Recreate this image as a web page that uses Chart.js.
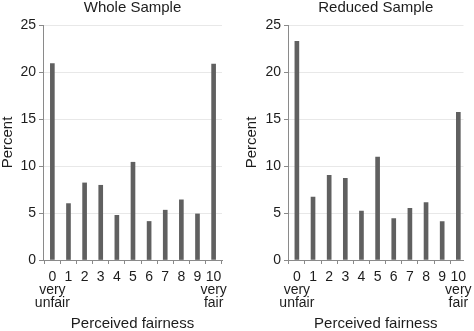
<!DOCTYPE html>
<html>
<head>
<meta charset="utf-8">
<script src="https://cdn.jsdelivr.net/npm/chart.js@4.4.1/dist/chart.umd.min.js"></script>
<style>
  html, body { margin: 0; padding: 0; background: #fff; }
  .wrap { display: flex; width: 474px; height: 331px; }
  .panel { position: relative; width: 237px; height: 331px; }
</style>
</head>
<body>
<div class="wrap">
  <div class="panel"><canvas id="wholeChart" width="237" height="331"></canvas></div>
  <div class="panel"><canvas id="reducedChart" width="237" height="331"></canvas></div>
</div>
<script>
// Perceived fairness scale 0..10
const fairnessLevels = [0, 1, 2, 3, 4, 5, 6, 7, 8, 9, 10];
const wholeSample = [20.9, 6.0, 8.2, 7.95, 4.75, 10.4, 4.1, 5.3, 6.4, 4.9, 20.85];
const reducedSample = [23.25, 6.7, 9.0, 8.7, 5.2, 10.95, 4.4, 5.5, 6.1, 4.1, 15.7];
const yTicks = [0, 5, 10, 15, 20, 25];
const xLabels = {0: ['0', 'very', 'unfair'], 10: ['10', 'very', 'fair']};

const TEXT = '#1c1c1c';
const AXIS = '#8a8a8a';
const BAR = '#606060';
const FONT = 'Arial, "Liberation Sans", Helvetica, sans-serif';

function makeChart(id, title, values, opts) {
    const ctx = document.getElementById(id).getContext('2d');
    return new Chart(ctx, {
        type: 'bar',
        data: {
            datasets: [{
                data: fairnessLevels.map((x, i) => ({x: x, y: values[i]})),
                backgroundColor: BAR,
                borderWidth: 0,
                barThickness: 4,
            }]
        },
        options: {
            responsive: false,
            animation: false,
            layout: { padding: { left: 0, right: opts.padRight, top: 0, bottom: 0 } },
            plugins: {
                legend: { display: false },
                tooltip: { enabled: false },
                title: {
                    display: true,
                    text: title,
                    fullSize: false,
                    color: TEXT,
                    font: { family: FONT, size: 15, weight: 'normal', lineHeight: 1 },
                    padding: { top: 0, bottom: 10 },
                }
            },
            scales: {
                x: {
                    type: 'linear',
                    min: opts.xMin,
                    max: opts.xMax,
                    offset: false,
                    afterBuildTicks: scale => {
                        scale.ticks = fairnessLevels.map(v => ({value: v}));
                    },
                    afterFit: scale => {
                        scale.height = 71;
                        scale.paddingLeft = 0;
                        scale.paddingRight = 0;
                    },
                    border: { display: true, color: AXIS, width: 1 },
                    grid: {
                        display: true,
                        drawOnChartArea: false,
                        drawTicks: true,
                        tickLength: 4,
                        tickColor: AXIS,
                    },
                    ticks: {
                        autoSkip: false,
                        maxRotation: 0,
                        minRotation: 0,
                        padding: 6,
                        color: TEXT,
                        font: { family: FONT, size: 14, lineHeight: 0.95 },
                        callback: value => xLabels[value] || String(value),
                    },
                    title: {
                        display: true,
                        text: 'Perceived fairness',
                        color: TEXT,
                        font: { family: FONT, size: 15, lineHeight: 1 },
                        padding: { top: 0, bottom: 0 },
                    }
                },
                y: {
                    min: 0,
                    max: 25,
                    afterBuildTicks: scale => {
                        scale.ticks = yTicks.map(v => ({value: v}));
                    },
                    afterFit: scale => {
                        scale.width = opts.yWidth;
                        scale.paddingTop = 0;
                        scale.paddingBottom = 0;
                    },
                    border: { display: true, color: AXIS, width: 1 },
                    grid: {
                        color: '#e8e8e8',
                        lineWidth: 1,
                        drawTicks: true,
                        tickLength: 4,
                        tickColor: AXIS,
                    },
                    ticks: {
                        padding: 3,
                        color: TEXT,
                        font: { family: FONT, size: 14 },
                    },
                    title: {
                        display: true,
                        text: 'Percent',
                        color: TEXT,
                        font: { family: FONT, size: 15, lineHeight: 1 },
                        padding: { top: opts.yTitlePad, bottom: 0 },
                    }
                }
            }
        }
    });
}

makeChart('wholeChart', 'Whole Sample', wholeSample,
    { xMin: -0.58, xMax: 10.52, yWidth: 43, padRight: 15, yTitlePad: 0 });
makeChart('reducedChart', 'Reduced Sample', reducedSample,
    { xMin: -0.55, xMax: 10.32, yWidth: 51, padRight: 10.5, yTitlePad: 7.5 });
</script>
</body>
</html>
